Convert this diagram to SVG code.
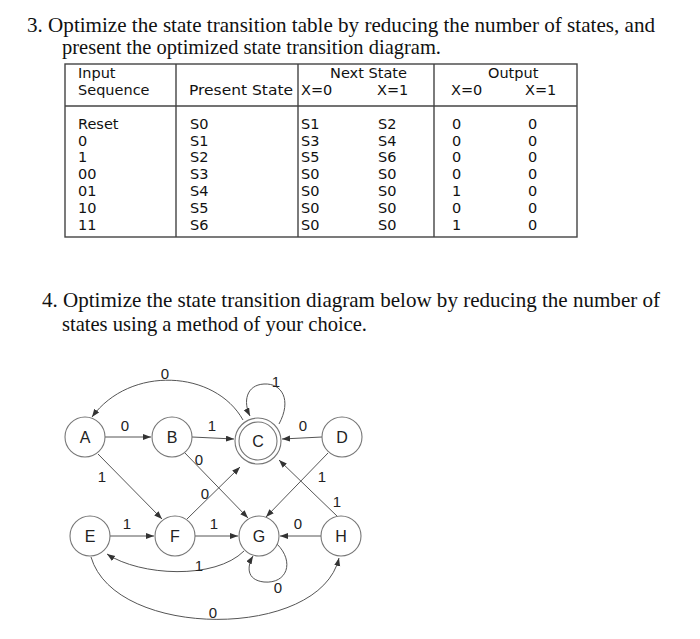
<svg xmlns="http://www.w3.org/2000/svg" width="700" height="639" viewBox="0 0 700 639">
<style>
.h{font-family:"Liberation Serif","Times New Roman",serif;font-size:21px;fill:#111}
.t{font-family:"DejaVu Sans",Tahoma,sans-serif;font-size:14.5px;fill:#111}
.tb{fill:none;stroke:#444;stroke-width:1.4}
.n{fill:#fff;stroke:#777;stroke-width:1.1}
.nl{font-family:"Liberation Sans",Arial,sans-serif;font-size:16px;fill:#222;text-anchor:middle}
.e{fill:none;stroke:#555;stroke-width:1}
.el{font-family:"Liberation Sans",Arial,sans-serif;font-size:15px;fill:#222;text-anchor:middle}
</style>
<defs>
<marker id="ar" markerUnits="userSpaceOnUse" markerWidth="9" markerHeight="7" refX="8" refY="3" orient="auto">
<path d="M0,0 L8,3 L0,6 z" fill="#333"/>
</marker>
</defs>
<rect width="700" height="639" fill="#fff"/>

<g id="heading3">
<text class="h" x="27" y="32" textLength="628" lengthAdjust="spacingAndGlyphs">3. Optimize the state transition table by reducing the number of states, and</text>
<text class="h" x="62" y="54" textLength="379" lengthAdjust="spacingAndGlyphs">present the optimized state transition diagram.</text>
</g>

<g id="table">
<rect class="tb" x="65" y="64" width="512" height="173"/>
<line class="tb" x1="65" y1="106" x2="577" y2="106"/>
<line class="tb" x1="176" y1="64" x2="176" y2="237"/>
<line class="tb" x1="298" y1="64" x2="298" y2="237"/>
<line class="tb" x1="434" y1="64" x2="434" y2="237"/>
<text class="t" x="78" y="78">Input</text>
<text class="t" x="78" y="95">Sequence</text>
<text class="t" x="189" y="95" textLength="104" lengthAdjust="spacingAndGlyphs">Present State</text>
<text class="t" x="330" y="78" textLength="77" lengthAdjust="spacingAndGlyphs">Next State</text>
<text class="t" x="301" y="95">X=0</text>
<text class="t" x="377" y="95">X=1</text>
<text class="t" x="488" y="78">Output</text>
<text class="t" x="451" y="95">X=0</text>
<text class="t" x="525" y="95">X=1</text>
<g class="t">
<text x="78" y="129">Reset</text><text x="190" y="129">S0</text><text x="301" y="129">S1</text><text x="378" y="129">S2</text><text x="452" y="129">0</text><text x="528" y="129">0</text>
<text x="78" y="146">0</text><text x="190" y="146">S1</text><text x="301" y="146">S3</text><text x="378" y="146">S4</text><text x="452" y="146">0</text><text x="528" y="146">0</text>
<text x="78" y="162">1</text><text x="190" y="162">S2</text><text x="301" y="162">S5</text><text x="378" y="162">S6</text><text x="452" y="162">0</text><text x="528" y="162">0</text>
<text x="78" y="179">00</text><text x="190" y="179">S3</text><text x="301" y="179">S0</text><text x="378" y="179">S0</text><text x="452" y="179">0</text><text x="528" y="179">0</text>
<text x="78" y="196">01</text><text x="190" y="196">S4</text><text x="301" y="196">S0</text><text x="378" y="196">S0</text><text x="452" y="196">1</text><text x="528" y="196">0</text>
<text x="78" y="213">10</text><text x="190" y="213">S5</text><text x="301" y="213">S0</text><text x="378" y="213">S0</text><text x="452" y="213">0</text><text x="528" y="213">0</text>
<text x="78" y="230">11</text><text x="190" y="230">S6</text><text x="301" y="230">S0</text><text x="378" y="230">S0</text><text x="452" y="230">1</text><text x="528" y="230">0</text>
</g>
</g>

<g id="heading4">
<text class="h" x="42" y="307" textLength="618" lengthAdjust="spacingAndGlyphs">4. Optimize the state transition diagram below by reducing the number of</text>
<text class="h" x="62" y="331" textLength="305" lengthAdjust="spacingAndGlyphs">states using a method of your choice.</text>
</g>

<g id="connectors">
<line class="e" x1="105" y1="437" x2="151" y2="437" marker-end="url(#ar)"/>
<text class="el" x="125" y="431">0</text>
<line class="e" x1="192" y1="437" x2="234" y2="439" marker-end="url(#ar)"/>
<text class="el" x="212" y="431">1</text>
<line class="e" x1="322" y1="437" x2="282" y2="439" marker-end="url(#ar)"/>
<text class="el" x="303" y="431">0</text>
<path class="e" d="M279 424 C292 400 282 383 264 384 C246 385 243 402 250 416" marker-end="url(#ar)"/>
<text class="el" x="276" y="387">1</text>
<path class="e" d="M243 420 C215 370 130 365 92 417" marker-end="url(#ar)"/>
<text class="el" x="165" y="379">0</text>
<line class="e" x1="98" y1="454" x2="162" y2="519" marker-end="url(#ar)"/>
<text class="el" x="102" y="482">1</text>
<line class="e" x1="184" y1="452" x2="248" y2="518" marker-end="url(#ar)"/>
<text class="el" x="199" y="465">0</text>
<line class="e" x1="187" y1="519" x2="240" y2="467" marker-end="url(#ar)"/>
<text class="el" x="205" y="499">0</text>
<line class="e" x1="110" y1="536" x2="154" y2="536" marker-end="url(#ar)"/>
<text class="el" x="127" y="529">1</text>
<line class="e" x1="195" y1="536" x2="238" y2="536" marker-end="url(#ar)"/>
<text class="el" x="214" y="529">1</text>
<line class="e" x1="321" y1="536" x2="280" y2="536" marker-end="url(#ar)"/>
<text class="el" x="298" y="529">0</text>
<line class="e" x1="328" y1="453" x2="266" y2="517" marker-end="url(#ar)"/>
<text class="el" x="322" y="482">1</text>
<line class="e" x1="338" y1="517" x2="279" y2="460" marker-end="url(#ar)"/>
<text class="el" x="337" y="507">1</text>
<path class="e" d="M277 544 C295 562 287 584 264 582 C246 580 247 566 253 556" marker-end="url(#ar)"/>
<text class="el" x="278" y="593">0</text>
<path class="e" d="M244 551 C215 580 140 576 107 554" marker-end="url(#ar)"/>
<text class="el" x="199" y="571">1</text>
<path class="e" d="M91 557 C115 640 320 640 339 558" marker-end="url(#ar)"/>
<text class="el" x="213" y="618">0</text>
</g>

<g id="A"><circle class="n" cx="85" cy="437" r="20"/><text class="nl" x="85" y="443">A</text></g>
<g id="B"><circle class="n" cx="172" cy="437" r="20"/><text class="nl" x="172" y="443">B</text></g>
<g id="C"><circle class="n" cx="258" cy="441" r="23"/><circle class="n" cx="258" cy="441" r="19"/><text class="nl" x="258" y="447">C</text></g>
<g id="D"><circle class="n" cx="342" cy="437" r="20"/><text class="nl" x="342" y="443">D</text></g>
<g id="E"><circle class="n" cx="90" cy="536" r="20"/><text class="nl" x="90" y="542">E</text></g>
<g id="F"><circle class="n" cx="175" cy="536" r="20"/><text class="nl" x="175" y="542">F</text></g>
<g id="G"><circle class="n" cx="259" cy="536" r="20"/><text class="nl" x="259" y="542">G</text></g>
<g id="H"><circle class="n" cx="341" cy="536" r="20"/><text class="nl" x="341" y="542">H</text></g>
</svg>
